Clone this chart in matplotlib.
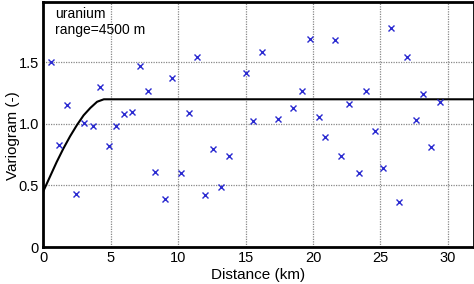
import matplotlib.pyplot as plt

plt.rcParams["font.family"] = ["Liberation Sans", "DejaVu Sans"]

# experimental variogram points (distance km, gamma)
lag_km = [0.6, 1.2, 1.8, 2.4, 3.0, 3.7, 4.2, 4.85, 5.4, 6.0, 6.6, 7.2, 7.8,
          8.3, 9.0, 9.55, 10.2, 10.8, 11.4, 12.0, 12.6, 13.2, 13.75, 15.0,
          15.55, 16.2, 17.4, 18.55, 19.2, 19.8, 20.45, 20.9, 21.6, 22.1,
          22.7, 23.4, 23.95, 24.6, 25.2, 25.75, 26.35, 27.0, 27.6, 28.15,
          28.75, 29.4]
gamma = [1.50, 0.83, 1.15, 0.43, 1.01, 0.98, 1.30, 0.82, 0.98, 1.08, 1.10,
         1.47, 1.27, 0.61, 0.39, 1.37, 0.60, 1.09, 1.54, 0.42, 0.80, 0.49,
         0.74, 1.41, 1.02, 1.58, 1.04, 1.13, 1.27, 1.69, 1.06, 0.89, 1.68,
         0.74, 1.16, 0.60, 1.27, 0.94, 0.645, 1.78, 0.37, 1.54, 1.035, 1.24,
         0.815, 1.18]

# fitted model curve
model_x = [0, 0.5, 1.0, 1.5, 2.0, 2.5, 3.0, 3.5, 4.0, 4.5, 31.9]
model_y = [0.45, 0.57, 0.69, 0.80, 0.90, 0.99, 1.07, 1.13, 1.18, 1.20, 1.20]

fig = plt.figure(figsize=(4.74, 2.84), dpi=100)
ax = fig.add_axes([0.091, 0.130, 0.908, 0.863])

ax.plot(model_x, model_y, color="black", lw=1.5, zorder=3)
ax.plot(lag_km, gamma, linestyle="none", marker="x", color="#2a2ad0",
        markersize=4.5, mew=1.0, zorder=4)

ax.set_xlim(0, 31.9)
ax.set_ylim(0, 1.99)
ax.set_xticks([0, 5, 10, 15, 20, 25, 30])
ax.set_yticks([0, 0.5, 1.0, 1.5])
ax.set_yticklabels(["0", "0.5", "1.0", "1.5"])
ax.grid(True, color="#888888", linestyle=(0, (1, 1)), lw=0.9)
ax.tick_params(length=0, labelsize=10.5, pad=3)

for s in ax.spines.values():
    s.set_linewidth(2)
    s.set_color("black")

ax.set_xlabel("Distance (km)", fontsize=11, labelpad=2)
ax.set_ylabel("Variogram (-)", fontsize=11)
ax.yaxis.set_label_coords(-0.053, 0.455)

ax.text(0.028, 0.98, "uranium\nrange=4500 m", transform=ax.transAxes,
        fontsize=10, va="top", ha="left", linespacing=1.2)

fig.savefig("out.png", dpi=100)
